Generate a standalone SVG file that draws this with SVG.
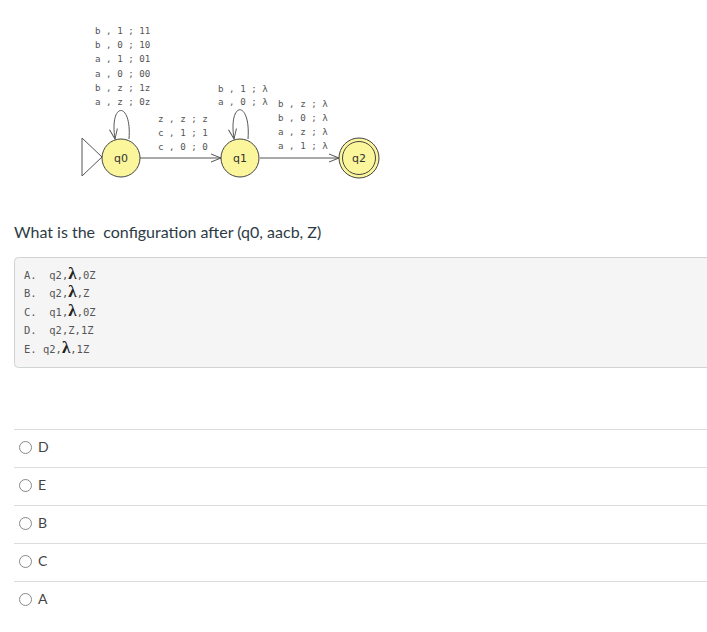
<svg xmlns="http://www.w3.org/2000/svg" width="707" height="632" viewBox="0 0 707 632">
<defs>
<marker id="arr" markerWidth="12" markerHeight="10" refX="11" refY="5" orient="auto" markerUnits="userSpaceOnUse">
<polyline points="1,1 11,5 1,9" fill="none" stroke="#555" stroke-width="1"/>
</marker>
<style>
.lbl{font-family:"DejaVu Sans Mono","Liberation Mono",monospace;font-size:9.2px;fill:#555;}
.node{fill:#fbf59b;stroke:#444;stroke-width:1;}
.nt{font-family:"DejaVu Sans","Liberation Sans",sans-serif;font-size:11px;fill:#333;text-anchor:middle;}
.edge{fill:none;stroke:#555;stroke-width:1;}
.q{font-family:Lato,"Liberation Sans",sans-serif;font-size:16px;fill:#2d3b45;}
.opt{font-family:"DejaVu Sans Mono","Liberation Mono",monospace;font-size:10.5px;fill:#555;}
.lam{font-family:"Liberation Serif","DejaVu Serif",serif;font-size:17px;font-weight:bold;fill:#222;}
.sep{stroke:#ddd;stroke-width:1;}
.radio{fill:#fff;stroke:#888;stroke-width:1;}
.rl{font-family:Lato,"Liberation Sans",sans-serif;font-size:14px;fill:#444;}
</style>
</defs>
<rect width="707" height="632" fill="#fff"/>

<g id="connectors">
<polygon points="82,138 82,176 102,157" fill="#fff" stroke="#555" stroke-width="1"/>
<path class="edge" d="M129,139 C132,101 109,101 115,139" marker-end="url(#arr)"/>
<line class="edge" x1="140" y1="158" x2="221" y2="158" marker-end="url(#arr)"/>
<path class="edge" d="M248,139 C251,100 228,100 234,139" marker-end="url(#arr)"/>
<line class="edge" x1="260" y1="158" x2="339" y2="158" marker-end="url(#arr)"/>
</g>

<g id="labels">
<text class="lbl" x="95" y="34">b , 1 ; 11</text>
<text class="lbl" x="95" y="48">b , 0 ; 10</text>
<text class="lbl" x="95" y="62">a , 1 ; 01</text>
<text class="lbl" x="95" y="77">a , 0 ; 00</text>
<text class="lbl" x="95" y="91">b , z ; 1z</text>
<text class="lbl" x="95" y="105">a , z ; 0z</text>
<text class="lbl" x="158" y="122">z , z ; z</text>
<text class="lbl" x="158" y="136">c , 1 ; 1</text>
<text class="lbl" x="158" y="150">c , 0 ; 0</text>
<text class="lbl" x="218" y="92">b , 1 ; λ</text>
<text class="lbl" x="218" y="105">a , 0 ; λ</text>
<text class="lbl" x="278" y="107">b , z ; λ</text>
<text class="lbl" x="278" y="121">b , 0 ; λ</text>
<text class="lbl" x="278" y="135">a , z ; λ</text>
<text class="lbl" x="278" y="149">a , 1 ; λ</text>
</g>

<g id="q0">
<circle class="node" cx="121" cy="158" r="19"/>
<text class="nt" x="121" y="162">q0</text>
</g>
<g id="q1">
<circle class="node" cx="240" cy="158" r="19"/>
<text class="nt" x="240" y="162">q1</text>
</g>
<g id="q2">
<circle class="node" cx="359" cy="158" r="20"/>
<circle fill="none" stroke="#444" stroke-width="1" cx="359" cy="158" r="16.5"/>
<text class="nt" x="359" y="162">q2</text>
</g>

<text class="q" x="14" y="238" xml:space="preserve">What is the  configuration after (q0, aacb, Z)</text>

<g id="options">
<rect x="14.5" y="257.5" width="710" height="110" rx="4" fill="#f5f5f5" stroke="#cfd3d6"/>
<text class="opt" x="24" y="279" xml:space="preserve">A.  q2,<tspan class="lam">λ</tspan>,0Z</text>
<text class="opt" x="24" y="297" xml:space="preserve">B.  q2,<tspan class="lam">λ</tspan>,Z</text>
<text class="opt" x="24" y="316" xml:space="preserve">C.  q1,<tspan class="lam">λ</tspan>,0Z</text>
<text class="opt" x="24" y="334" xml:space="preserve">D.  q2,Z,1Z</text>
<text class="opt" x="24" y="353" xml:space="preserve">E. q2,<tspan class="lam">λ</tspan>,1Z</text>
</g>

<g id="answers">
<line class="sep" x1="14" y1="429.5" x2="707" y2="429.5"/>
<line class="sep" x1="14" y1="467.5" x2="707" y2="467.5"/>
<line class="sep" x1="14" y1="505.5" x2="707" y2="505.5"/>
<line class="sep" x1="14" y1="543.5" x2="707" y2="543.5"/>
<line class="sep" x1="14" y1="581.5" x2="707" y2="581.5"/>
<circle class="radio" cx="25.5" cy="447.5" r="6"/>
<text class="rl" x="38" y="452">D</text>
<circle class="radio" cx="25.5" cy="485.5" r="6"/>
<text class="rl" x="38" y="490">E</text>
<circle class="radio" cx="25.5" cy="523.5" r="6"/>
<text class="rl" x="38" y="528">B</text>
<circle class="radio" cx="25.5" cy="561.5" r="6"/>
<text class="rl" x="38" y="566">C</text>
<circle class="radio" cx="25.5" cy="599.5" r="6"/>
<text class="rl" x="38" y="604">A</text>
</g>
</svg>
